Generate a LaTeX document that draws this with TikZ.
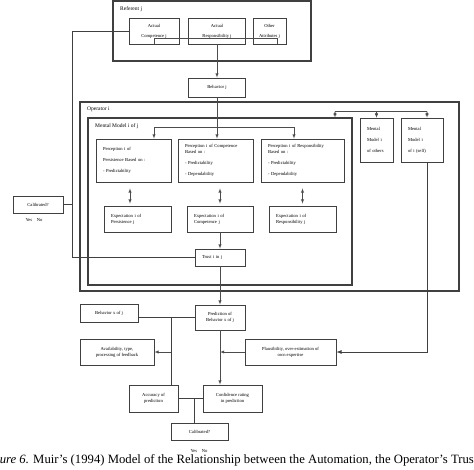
\documentclass[tikz,border=0pt]{standalone}
\usepackage{fontspec}
\setmainfont{Liberation Serif}
\usepackage{tikz}
\usetikzlibrary{arrows}
\newcommand{\diagfont}{\fontsize{4.6}{6}\selectfont}
\newcommand{\grpfont}{\fontsize{5.5}{7}\selectfont}

\begin{document}
\begin{tikzpicture}[x=1pt,y=-1pt,
    grp/.style={draw=black!75,line width=1.1pt,inner sep=0pt},
    box/.style={draw=black!75,line width=0.8pt,inner sep=0pt,align=center,font=\diagfont},
    lbox/.style={box,align=left,inner xsep=7pt,text width=#1},
    grplabel/.style={anchor=west,inner sep=0pt,font=\grpfont},
    plain/.style={inner sep=0pt,font=\diagfont},
    conn/.style={draw=black!70,line width=0.45pt},
    heavy/.style={draw=black!75,line width=0.8pt}]
                      \useasboundingbox (0,0) rectangle (474,469);
                      \clip (0,0) rectangle (474,469);
                      \node[grp,minimum width=198,minimum height=60](referent)at(212,31){};
                      \node[grp,minimum width=379,minimum height=189](operator)at(269.5,196.5){};
                      \node[grp,minimum width=264,minimum height=167](mentalmodel)at(220,201.5){};
                      \node[grplabel](reflabel)at(120,9){Referent j};
                      \node[grplabel](oplabel)at(87,109){Operator i};
                      \node[grplabel](mmlabel)at(95,126){Mental Model i of j};
                      \node[box,minimum width=50,minimum height=26](compj)at(154,31){Actual\\[4pt]Competence j};
                      \node[box,minimum width=57,minimum height=26](respj)at(217,31){Actual\\[4pt]Responsibility j};
                      \node[box,minimum width=33,minimum height=26](othj)at(269.5,31){Other\\[4pt]Attributes j};
                      \node[box,minimum width=57,minimum height=19](behj)at(217,87.5){Behavior j};
                      \node[lbox=61,minimum width=75,minimum height=43](perc1)at(133.5,160.5){Perception i of\\[5pt]Persistence Based on :\\[5pt]- Predictability};
                      \node[lbox=61,minimum width=75,minimum height=43](perc2)at(215.5,160.5){Perception i of Competence\\Based on :\\[5pt]- Predictability\\[5pt]- Dependability};
                      \node[lbox=69,minimum width=83,minimum height=43](perc3)at(302.5,160.5){Perception i of Responsibility\\Based on :\\[5pt]- Predictability\\[5pt]- Dependability};
                      \node[lbox=19,minimum width=33,minimum height=44](mmothers)at(376.5,140){Mental\\[5pt]Model i\\[5pt]of others};
                      \node[lbox=28,minimum width=42,minimum height=44](mmself)at(422,140){Mental\\[5pt]Model i\\[5pt]of i (self)};
                      \node[lbox=53,minimum width=67,minimum height=26](exp1)at(137.5,219){Expectation i of\\Persistence j};
                      \node[lbox=52,minimum width=66,minimum height=26](exp2)at(220,219){Expectation i of\\Competence j};
                      \node[lbox=53,minimum width=67,minimum height=26](exp3)at(302.5,219){Expectation i of\\Responsibility j};
                      \node[lbox=36,minimum width=50,minimum height=17](trust)at(220,257.5){Trust i in j};
                      \node[box,minimum width=50,minimum height=17](calib1)at(38,204.5){Calibrated?};
                      \node[plain](yesno1)at(34,220){Yes\quad No};
                      \node[box,minimum width=58,minimum height=18](behx)at(109,313){Behavior x of j};
                      \node[box,minimum width=50,minimum height=25](pred)at(220,317.5){Prediction of\\Behavior x of j};
                      \node[box,minimum width=74,minimum height=26](avail)at(117,352){Availability, type,\\processing of feedback};
                      \node[box,minimum width=91,minimum height=26](plaus)at(290.5,352){Plausibility, over-estimation of\\own expertise};
                      \node[box,minimum width=49,minimum height=27](acc)at(153.5,398.5){Accuracy of\\prediction};
                      \node[box,minimum width=59,minimum height=27](conf)at(232.5,398.5){Confidence rating\\in prediction};
                      \node[box,minimum width=57,minimum height=17](calib2)at(199.5,431.5){Calibrated?};
                      \node[plain](yesno2)at(199,451){Yes\quad No};
                      \node[anchor=base west,inner sep=0pt,font=\fontsize{12.7}{14}\selectfont](caption)at(-18,463){\textit{Figure 6.} Muir's (1994) Model of the Relationship between the Automation, the Operator's Trust};
                      \coordinate (othdrop) at ([xshift=8pt]othj.south);
                      \coordinate (perc1top) at ([xshift=20.5pt]perc1.north);
                      \coordinate (perc3top) at ([xshift=-8.5pt]perc3.north);
                      \coordinate (selftop) at ([xshift=5pt]mmself.north);
                      \coordinate (selfbottom) at ([xshift=5pt]mmself.south);
                      \coordinate (exp1top) at ([xshift=-7.5pt]exp1.north);
                      \coordinate (accdrop) at ([xshift=17.5pt]acc.north);
                      \coordinate (caldrop) at ([xshift=-5.5pt]calib2.north);
                      \coordinate (calloop) at ([xshift=9pt]calib1.east);
                      \coordinate (mmbus) at (217,127);
                      \coordinate (selfbus) at (335,111);
                      \draw[conn] (compj.south) |- ([yshift=6pt]othdrop) -- (othdrop);
                      \draw[conn,-latex] (respj.south) -- (behj.north);
                      \draw[conn,-latex] (behj.south) -- (behj.south |- perc2.north);
                      \draw[conn] (perc1top |- mmbus) -- (perc3top |- mmbus);
                      \draw[conn,-latex] (perc1top |- mmbus) -- (perc1top);
                      \draw[conn,-latex] (perc3top |- mmbus) -- (perc3top);
                      \draw[conn] (selfbus) -- (selfbus -| selftop);
                      \draw[conn,latex-latex] (selfbus) -- (selfbus |- mentalmodel.north);
                      \draw[conn,latex-latex] (selfbus -| mmothers.north) -- (mmothers.north);
                      \draw[conn,latex-latex] (selfbus -| selftop) -- (selftop);
                      \draw[conn,latex-latex,shorten <=2pt,shorten >=6pt] (exp1top) -- (exp1top |- perc1.south);
                      \draw[conn,latex-latex,shorten <=2pt,shorten >=6pt] (exp2.north) -- (exp2.north |- perc2.south);
                      \draw[conn,latex-latex,shorten <=2pt,shorten >=6pt] (exp3.north) -- (exp3.north |- perc3.south);
                      \draw[conn,-latex] (exp2.south) -- (trust.north);
                      \draw[conn,-latex] (trust.south) -- (pred.north);
                      \draw[heavy] (compj.west) -| (calloop) |- (trust.west);
                      \draw[heavy] (calib1.east) -- (calloop);
                      \draw[heavy] (pred.west) -- (pred.west -| behx.east);
                      \draw[heavy] (accdrop |- pred.west) -- (accdrop);
                      \draw[conn,-latex] (accdrop |- avail.east) -- (avail.east);
                      \draw[conn,-latex] (pred.south) -- (pred.south |- conf.north);
                      \draw[conn,-latex] (plaus.west) -- (pred.south |- plaus.west);
                      \draw[heavy,-latex] (selfbottom) |- (plaus.east);
                      \draw[heavy] (acc.east) -- (conf.west);
                      \draw[heavy] (caldrop |- acc.east) -- (caldrop);
                  \end{tikzpicture}
\end{document}
